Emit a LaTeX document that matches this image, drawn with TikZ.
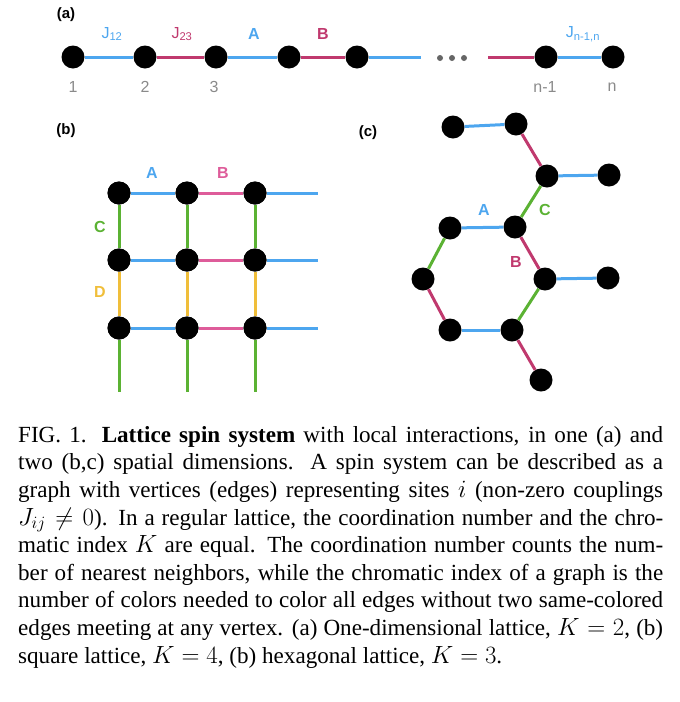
\documentclass[tikz,border=0pt]{standalone}
\usepackage{fontspec}
\setmainfont{Liberation Serif}
\newfontfamily\lab{Liberation Sans}
\definecolor{cblue}{HTML}{4DA6EF}
\definecolor{cmag}{HTML}{C0396E}
\definecolor{cpink}{HTML}{DE5C9A}
\definecolor{cgreen}{HTML}{5BB233}
\definecolor{cyel}{HTML}{F0BE3A}
\definecolor{cgray}{HTML}{8A8A8A}
\begin{document}
\begin{tikzpicture}[x=1pt,y=-1pt,
  sp/.style={circle,fill=black,minimum size=23pt,inner sep=0pt},
  ed/.style={line width=3pt},
  lb/.style={font=\lab\bfseries\fontsize{16}{16}\selectfont},
  jl/.style={font=\lab\fontsize{16}{16}\selectfont},
  num/.style={font=\lab\fontsize{16}{16}\selectfont,text=cgray},
  pl/.style={font=\lab\bfseries\fontsize{15}{15}\selectfont}]
\useasboundingbox (0,0) rectangle (680,702);
% (a)
\node[pl] (la) at (66,15) {(a)};
\foreach \n/\x in {a1/73,a2/145,a3/216,a4/289,a5/357,an1/546,an/613}
  \node[sp] (\n) at (\x,57) {};
\coordinate (ae) at (421,57);
\coordinate (as) at (488,57);
\draw[ed,cblue] (a1)--(a2); \draw[ed,cmag] (a2)--(a3);
\draw[ed,cblue] (a3)--(a4); \draw[ed,cmag] (a4)--(a5);
\draw[ed,cblue] (a5)--(ae); \draw[ed,cmag] (as)--(an1); \draw[ed,cblue] (an1)--(an);
\foreach \n/\x in {d1/440,d2/452,d3/464} \node[circle,fill=gray!80!black,minimum size=6pt,inner sep=0pt] (\n) at (\x,58) {};
\node[jl,text=cblue] (j12) at (112,34) {J\textsubscript{12}};
\node[jl,text=cmag] (j23) at (182,34) {J\textsubscript{23}};
\node[lb,text=cblue] (aA) at (254,34) {A};
\node[lb,text=cmag] (aB) at (323,34) {B};
\node[jl,text=cblue] (jn) at (583,34) {J\textsubscript{n-1,n}};
\node[num] (n1) at (73,87) {1};
\node[num] (n2) at (145,87) {2};
\node[num] (n3) at (214,87) {3};
\node[num] (nn1) at (545,87) {n-1};
\node[num] (nn) at (612,87) {n};
% (b)
\node[pl] (lbb) at (66,131) {(b)};
\foreach \c/\x in {1/119,2/187,3/255}
  \foreach \r/\y in {1/193,2/260,3/328} \node[sp] (b\c\r) at (\x,\y) {};
\foreach \r/\y in {1/193,2/260,3/328} {
  \coordinate (br\r) at (318,\y);
  \draw[ed,cblue] (b1\r)--(b2\r); \draw[ed,cpink] (b2\r)--(b3\r); \draw[ed,cblue] (b3\r)--(br\r);}
\foreach \c/\x in {1/119,2/187,3/255} {
  \coordinate (bd\c) at (\x,392);
  \draw[ed,cgreen] (b\c1)--(b\c2); \draw[ed,cyel] (b\c2)--(b\c3); \draw[ed,cgreen] (b\c3)--(bd\c);}
\foreach \c in {1,2,3} \foreach \r in {1,2,3} \node[sp] at (b\c\r) {};
\node[lb,text=cblue] (bA) at (152,173) {A};
\node[lb,text=cpink] (bB) at (223,173) {B};
\node[lb,text=cgreen] (bC) at (100,227) {C};
\node[lb,text=cyel] (bD) at (100,292) {D};
% (c)
\node[pl] (lc) at (368,133) {(c)};
\foreach \n/\x/\y in {c1/453/127,c2/516/124,c3/547/176,c4/609/175,c5/450/228,c6/515/227,
  c7/423/279,c8/545/279,c9/608/278,c10/450/330,c11/512/330,c12/541/380}
  \node[sp] (\n) at (\x,\y) {};
\draw[ed,cblue] (c1)--(c2); \draw[ed,cmag] (c2)--(c3); \draw[ed,cblue] (c3)--(c4);
\draw[ed,cgreen] (c3)--(c6); \draw[ed,cblue] (c5)--(c6); \draw[ed,cmag] (c6)--(c8);
\draw[ed,cblue] (c8)--(c9); \draw[ed,cgreen] (c5)--(c7); \draw[ed,cmag] (c7)--(c10);
\draw[ed,cblue] (c10)--(c11); \draw[ed,cgreen] (c11)--(c8); \draw[ed,cmag] (c11)--(c12);
\node[lb,text=cblue] (cA) at (484,210) {A};
\node[lb,text=cgreen] (cC) at (545,210) {C};
\node[lb,text=cmag] (cB) at (516,262) {B};
% caption
\node[anchor=north west,inner sep=0pt,text width=645pt,align=justify,
  font=\fontsize{23.1}{27.6}\selectfont] (cap) at (18,426) {%
FIG.~1. \textbf{Lattice spin system} with local interactions, in one (a) and\linebreak
two (b,c) spatial dimensions. A spin system can be described as a\linebreak
graph with vertices (edges) representing sites $i$ (non-zero couplings\linebreak
$J_{ij}\neq 0$). In a regular lattice, the coordination number and the chro-\linebreak
matic index $K$ are equal. The coordination number counts the num-\linebreak
ber of nearest neighbors, while the chromatic index of a graph is the\linebreak
number of colors needed to color all edges without two same-colored\linebreak
edges meeting at any vertex. (a) One-dimensional lattice, $K=2$, (b)\linebreak
square lattice, $K=4$, (b) hexagonal lattice, $K=3$.};
\end{tikzpicture}
\end{document}
